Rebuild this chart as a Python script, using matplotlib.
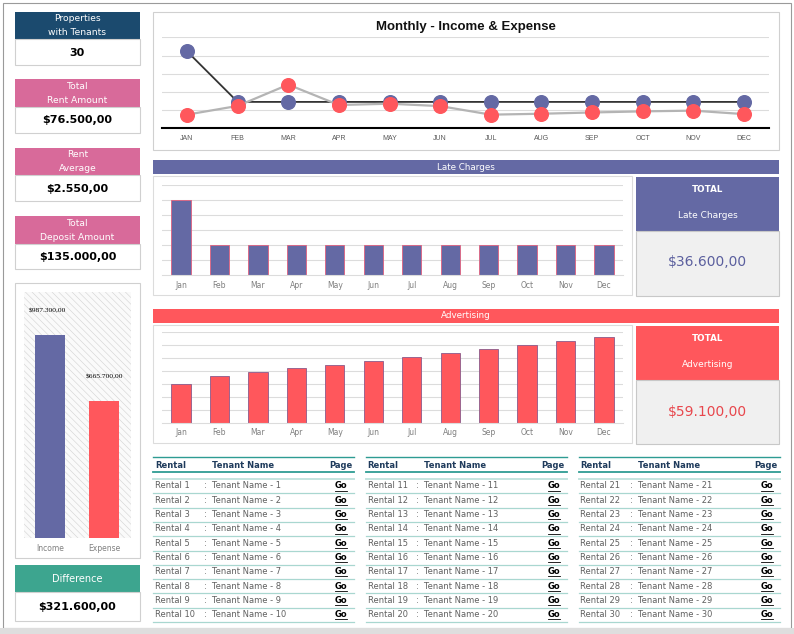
import matplotlib
matplotlib.use("Agg")
import numpy as np
import matplotlib.pyplot as plt
from matplotlib.patches import Rectangle

# -----------------------------------------------------------
# DATI
months = ["Jan", "Feb", "Mar", "Apr", "May", "Jun", "Jul", "Aug", "Sep", "Oct", "Nov", "Dec"]

income_monthly = [211500, 72500, 72500, 72500, 72500, 72500, 72500, 72500, 72500, 72500, 72500, 72500]
expense_monthly = [37500, 61500, 120000, 64000, 67500, 61000, 37500, 40000, 43500, 46500, 48500, 39000]

late_charges = [5000, 2000, 2000, 2000, 2000, 2000, 2000, 2000, 2000, 2000, 2000, 2000]
advertising = [3000, 3600, 3900, 4200, 4500, 4800, 5100, 5400, 5700, 6000, 6300, 6600]

card_titles = [("Properties", "with Tenants"), ("Total", "Rent Amount"),
               ("Rent", "Average"), ("Total", "Deposit Amount")]
card_values = [30, 76500, 2550, 135000]

totals_labels = ["Income", "Expense"]
totals_values = [987300, 665700]
late_total = 36600
advertising_total = 59100

rentals = ["Rental %d" % i for i in range(1, 31)]
tenants = ["Tenant Name - %d" % i for i in range(1, 31)]
# -----------------------------------------------------------

W, H = 794, 634
NAVY = "#1b4a6e"
PINK = "#d86a9a"
SLATE = "#6469a4"
CORAL = "#ff575c"
TEAL = "#3da58f"
LINE_TEAL = "#2e9c93"
LIGHT_TEAL = "#a9d7d0"
GRID = "#dcdcdc"

plt.rcParams["font.family"] = "DejaVu Sans"
plt.rcParams["hatch.linewidth"] = 0.4


def eur(v):
    s = "{:,.2f}".format(v)
    return "$" + s.replace(",", "#").replace(".", ",").replace("#", ".")


fig = plt.figure(figsize=(W / 100, H / 100), dpi=100)
fig.patch.set_facecolor("white")

# asse di sfondo in pixel (y verso il basso)
bg = fig.add_axes([0, 0, 1, 1])
bg.set_xlim(0, W)
bg.set_ylim(H, 0)
bg.axis("off")


def px_axes(x, y, w, h):
    return fig.add_axes([x / W, 1 - (y + h) / H, w / W, h / H])


def box(x, y, w, h, fc, ec="none", lw=0.8, z=1):
    bg.add_patch(Rectangle((x, y), w, h, facecolor=fc, edgecolor=ec, linewidth=lw, zorder=z))


def txt(x, y, s, size, color="black", weight="normal", ha="center", **kw):
    bg.text(x, y, s, fontsize=size, color=color, fontweight=weight, ha=ha, va="center", zorder=5, **kw)


# cornice esterna
box(2.5, 2.5, 788.5, 625, "white", ec="#9a9a9a", lw=0.8, z=0)
box(0, 628, W, 6, "#dedede", z=0)

# -----------------------------------------------------------
# CARDS A SINISTRA
card_tops = [11.7, 79.3, 147.7, 216]
card_colors = [NAVY, PINK, PINK, PINK]
for (t1, t2), val, top, col in zip(card_titles, card_values, card_tops, card_colors):
    box(14.7, top, 125.3, 27.7, col)
    box(14.7, top + 27.7, 125.3, 25.7, "white", ec="#d0d0d0")
    txt(77.4, top + 7.0, t1, 6.6, "white")
    txt(77.4, top + 21.0, t2, 6.6, "white")
    label = str(val) if val < 1000 else eur(val)
    txt(77.4, top + 40.8, label, 8, weight="bold")

# pannello Income / Expense
box(14.7, 283, 125.3, 275, "white", ec="#d0d0d0")
axt = px_axes(24, 291.7, 106.7, 246.6)
axt.add_patch(Rectangle((0, 0), 1, 1, transform=axt.transAxes, facecolor="#fafafa",
                        edgecolor="#d2d2d2", hatch="\\\\\\\\\\", linewidth=0, zorder=0))
xt = np.arange(len(totals_values))
axt.bar(xt, totals_values, width=0.553, color=[SLATE, CORAL], zorder=2)
axt.set_xlim(-0.479, 1.486)
axt.set_ylim(0, 1200000)
axt.set_yticks([])
axt.set_xticks(xt)
axt.set_xticklabels(totals_labels, fontsize=5.5, color="#808080")
axt.tick_params(axis="x", length=0, pad=4)
for s in axt.spines.values():
    s.set_visible(False)
axt.set_facecolor("none")
for xi, v in zip(xt, totals_values):
    axt.annotate(eur(v), (xi - 0.04 if xi == 0 else xi, v), xytext=(0, 17.5),
                 textcoords="offset points", ha="center", va="center",
                 fontsize=5.4, family="Liberation Serif")

# Difference
box(14.7, 565, 125.3, 27.3, TEAL)
box(14.7, 592.3, 125.3, 28.4, "white", ec="#d0d0d0")
txt(77.4, 578.5, "Difference", 7, "white")
txt(77.4, 606.5, eur(totals_values[0] - totals_values[1]), 8, weight="bold")

# -----------------------------------------------------------
# GRAFICO A LINEE
box(152.5, 11.5, 626.5, 138.5, "white", ec="#d0d0d0")
txt(466, 27, "Monthly - Income & Expense", 9.5, "#111111", weight="bold", family="Liberation Sans")
axl = px_axes(161.7, 37.3, 607.6, 91)
xm = np.arange(len(months))
axl.plot(xm, income_monthly, color="#333333", lw=1.3, zorder=2, clip_on=False)
axl.plot(xm, income_monthly, "o", color=SLATE, ms=9.8, zorder=3, clip_on=False)
axl.plot(xm, expense_monthly, color="#b4b4b4", lw=1.6, zorder=4, clip_on=False)
axl.plot(xm, expense_monthly, "o", color=CORAL, ms=9.8, zorder=5, clip_on=False)
axl.set_xlim(-0.5, 11.5)
axl.set_ylim(0, 250000)
axl.set_yticks(np.arange(50000, 250001, 50000))
axl.set_yticklabels([])
axl.yaxis.grid(True, color=GRID, lw=0.8)
axl.set_axisbelow(True)
axl.set_xticks(xm)
axl.set_xticklabels([m.upper() for m in months], fontsize=5, color="#595959", family="Liberation Sans")
axl.tick_params(length=0)
axl.tick_params(axis="x", pad=5)
for k in ["top", "left", "right"]:
    axl.spines[k].set_visible(False)
axl.spines["bottom"].set_color("black")
axl.spines["bottom"].set_linewidth(1.5)
axl.set_facecolor("none")


# -----------------------------------------------------------
# GRAFICI A BARRE MENSILI
def month_bars(values, top, band_top, color, edge, ymax, title, total, total_color):
    # banda del titolo
    box(153, band_top, 626, 14, color)
    txt(466, band_top + 7, title, 6.3, "white")

    # pannello grafico
    box(153, band_top + 16, 479, 119 if title == "Late Charges" else 118, "white", ec="#dcdcdc")
    ax = px_axes(161.8, top, 461.4, 90.3)
    ax.bar(xm, values, width=0.5, color=color, edgecolor=edge, linewidth=0.6, zorder=2)
    ax.set_xlim(-0.5, 11.5)
    ax.set_ylim(0, ymax)
    ax.set_yticks(np.arange(1000, ymax + 1, 1000))
    ax.set_yticklabels([])
    ax.yaxis.grid(True, color=GRID, lw=0.8)
    ax.set_axisbelow(True)
    ax.set_xticks(xm)
    ax.set_xticklabels(months, fontsize=5.5, color="#7f7f7f")
    ax.tick_params(length=0)
    ax.tick_params(axis="x", pad=4)
    for k in ["top", "left", "right"]:
        ax.spines[k].set_visible(False)
    ax.spines["bottom"].set_color(GRID)
    ax.set_facecolor("none")

    # riquadro totale
    y0 = band_top + 16.5
    box(635.5, y0, 143.5, 54, color)
    box(635.5, y0 + 54, 143.5, 65 if title == "Late Charges" else 64, "#f0f0f0", ec="#c8c8c8")
    txt(707.5, y0 + 13, "TOTAL", 6.3, "white", weight="bold")
    txt(707.5, y0 + 39, title, 6.5, "white")
    txt(707.5, y0 + 86, eur(total), 10, total_color)


month_bars(late_charges, 185, 160, SLATE, "#e0607e", 6000, "Late Charges", late_total, "#5b5f9e")
month_bars(advertising, 332.3, 309, CORAL, "#8b5a8b", 7000, "Advertising", advertising_total, "#e8474d")

# -----------------------------------------------------------
# TABELLE INQUILINI
table_x = [153, 365.5, 578.5]
for t, x0 in enumerate(table_x):
    bg.plot([x0, x0 + 201], [457.3, 457.3], color=LINE_TEAL, lw=1.0, zorder=4)
    bg.plot([x0, x0 + 201], [472.3, 472.3], color=LINE_TEAL, lw=1.3, zorder=4)
    bg.plot([x0, x0 + 201], [479.3, 479.3], color="#c3e4df", lw=1.4, zorder=4)
    txt(x0 + 2, 465.5, "Rental", 6, "#1f3b5c", weight="bold", ha="left")
    txt(x0 + 59, 465.5, "Tenant Name", 6, "#1f3b5c", weight="bold", ha="left")
    txt(x0 + 199, 465.5, "Page", 6, "#1f3b5c", weight="bold", ha="right")
    for i in range(10):
        k = t * 10 + i
        yr = 486 + i * 14.3
        txt(x0 + 2, yr, rentals[k], 6, "#606060", ha="left")
        txt(x0 + 51, yr, ":  " + tenants[k], 6, "#606060", ha="left")
        txt(x0 + 188, yr, "Go", 6, "black", weight="bold")
        bg.plot([x0 + 182, x0 + 194], [yr + 4.6, yr + 4.6], color="black", lw=0.6, zorder=5)
        bg.plot([x0, x0 + 201], [yr + 7.3, yr + 7.3], color=LIGHT_TEAL, lw=0.9, zorder=4)

fig.savefig("out.png", dpi=100)
